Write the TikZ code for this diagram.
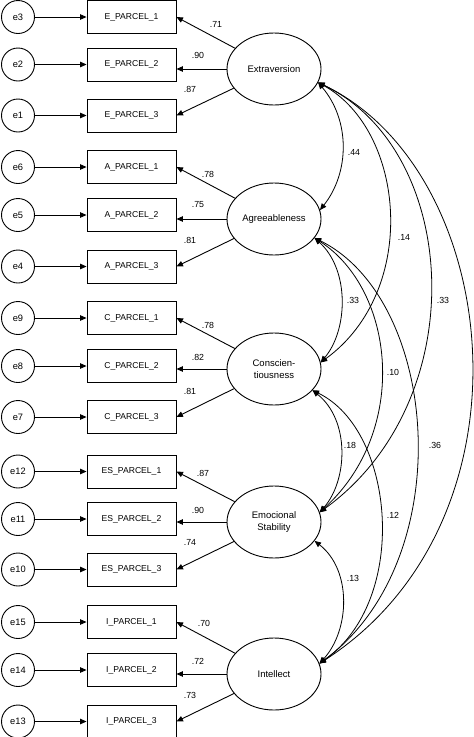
\documentclass[tikz,border=0pt]{standalone}
\usepackage{fontspec}
\setmainfont{Liberation Sans}
\usetikzlibrary{arrows.meta,shapes.geometric}
\begin{document}
\begin{tikzpicture}[x=1pt,y=-1pt,
 every node/.style={font=\fontsize{9.5}{12.5}\selectfont},
 errc/.style={draw, circle, minimum size=33pt, inner sep=0pt, line width=0.9pt, font=\fontsize{9.3}{11}\selectfont},
 obs/.style={draw, rectangle, minimum width=89pt, minimum height=33pt, inner sep=0pt, line width=0.9pt, font=\fontsize{8.6}{10}\selectfont},
 lat/.style={draw, ellipse, minimum width=94pt, minimum height=72pt, inner sep=0pt, line width=0.9pt, align=center},
 arr/.style={-{Triangle[length=6.5pt,width=5.5pt]}, line width=0.9pt},
 cov/.style={{Triangle[length=6.5pt,width=5.5pt]}-{Triangle[length=6.5pt,width=5.5pt]}, line width=0.8pt},
 lab/.style={font=\fontsize{8.8}{10}\selectfont, inner sep=0pt}
]
\useasboundingbox (0,0) rectangle (474,737);

% error terms and observed parcels
\foreach \e/\p/\t/\y in {
  e3/EP1/E\_PARCEL\_1/17, e2/EP2/E\_PARCEL\_2/64.5, e1/EP3/E\_PARCEL\_3/115.5,
  e6/AP1/A\_PARCEL\_1/167, e5/AP2/A\_PARCEL\_2/215, e4/AP3/A\_PARCEL\_3/266.5,
  e9/CP1/C\_PARCEL\_1/318, e8/CP2/C\_PARCEL\_2/366, e7/CP3/C\_PARCEL\_3/417,
  e12/SP1/ES\_PARCEL\_1/471.5, e11/SP2/ES\_PARCEL\_2/519, e10/SP3/ES\_PARCEL\_3/569.5,
  e15/IP1/I\_PARCEL\_1/622, e14/IP2/I\_PARCEL\_2/670, e13/IP3/I\_PARCEL\_3/721.5}{
  \node[errc] (\e) at (18,\y) {\e};
  \node[obs] (\p) at (131.5,\y) {\t};
  \draw[arr] (\e) -- (\p);
}

% latent factors
\node[lat] (E) at (274,69) {Extraversion};
\node[lat] (A) at (274,219) {Agreeableness};
\node[lat] (C) at (274,369) {Conscien-\\tiousness};
\node[lat] (S) at (274,522) {Emocional\\Stability};
\node[lat] (I) at (274,674) {Intellect};

% loadings
\foreach \f/\p in {E/EP, A/AP, C/CP, S/SP, I/IP}{
  \draw[arr] (\f) -- (\p1.east);
  \draw[arr] (\f.west) -- (\f.west -| \p2.east);
  \draw[arr] (\f) -- (\p3.east);
}

\node[lab] (lE1) at (216,24) {.71};
\node[lab] (lE2) at (198,55) {.90};
\node[lab] (lE3) at (190,89) {.87};
\node[lab] (lA1) at (208,174) {.78};
\node[lab] (lA2) at (198,205) {.75};
\node[lab] (lA3) at (190,240) {.81};
\node[lab] (lC1) at (208,325) {.78};
\node[lab] (lC2) at (198,357) {.82};
\node[lab] (lC3) at (190,391) {.81};
\node[lab] (lS1) at (203,473) {.87};
\node[lab] (lS2) at (198,510) {.90};
\node[lab] (lS3) at (190,542) {.74};
\node[lab] (lI1) at (204,623) {.70};
\node[lab] (lI2) at (198,661) {.72};
\node[lab] (lI3) at (190,695) {.73};

% covariance anchors
\coordinate (Eo) at (E.-17);
\coordinate (Ai) at (A.11);
\coordinate (Ao) at (A.-25);
\coordinate (Ci) at (C.8);
\coordinate (Co) at (C.-29);
\coordinate (Si) at (S.12);
\coordinate (So) at (S.-25);
\coordinate (Ii) at (I.13);

% covariances
\draw[cov] (Eo) .. controls (350,120) and (350,172) .. (Ai);
\draw[cov] (Eo) .. controls (405,130) and (420,290) .. (Ci);
\draw[cov] (Eo) .. controls (460,150) and (475,400) .. (Si);
\draw[cov] (Eo) .. controls (502,170) and (542,520) .. (Ii);
\draw[cov] (Ao) .. controls (350,270) and (348,330) .. (Ci);
\draw[cov] (Ao) .. controls (395,290) and (410,430) .. (Si);
\draw[cov] (Ao) .. controls (440,300) and (460,560) .. (Ii);
\draw[cov] (Co) .. controls (350,420) and (348,480) .. (Si);
\draw[cov] (Co) .. controls (395,430) and (410,600) .. (Ii);
\draw[cov] (So) .. controls (352,570) and (350,630) .. (Ii);

\node[lab] (cEA) at (354,152) {.44};
\node[lab] (cEC) at (404,237) {.14};
\node[lab] (cAC) at (353,300) {.33};
\node[lab] (cES) at (443,300) {.33};
\node[lab] (cAS) at (393,372) {.10};
\node[lab] (cCS) at (350,445) {.18};
\node[lab] (cAI) at (435,445) {.36};
\node[lab] (cCI) at (393,515) {.12};
\node[lab] (cSI) at (353,578) {.13};
\end{tikzpicture}
\end{document}
